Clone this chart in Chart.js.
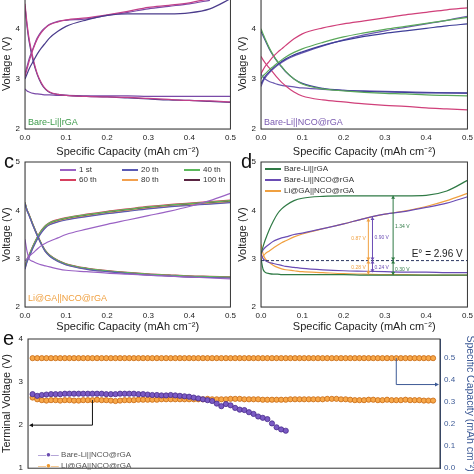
<!DOCTYPE html>
<html>
<head>
<meta charset="utf-8">
<script src="https://cdn.jsdelivr.net/npm/chart.js@4.4.0/dist/chart.umd.min.js"></script>
<style>
  body { margin: 0; background: #fff; width: 474px; height: 474px; overflow: hidden; position: relative; font-family: "Liberation Sans", Arial, sans-serif; }
  canvas { position: absolute; }
  .lbl { position: absolute; font-size: 20px; color: #111; }
  .note { position: absolute; font-size: 9px; }
  .leg { position: absolute; font-size: 8px; color: #555; white-space: nowrap; }
  .ln { display: inline-block; width: 16px; height: 2px; vertical-align: middle; margin-right: 3px; }
</style>
</head>
<body>
<canvas id="pa" style="left:0;top:-8px;width:237px;height:168px"></canvas>
<canvas id="pb" style="left:236px;top:-8px;width:238px;height:168px"></canvas>
<canvas id="pc" style="left:0;top:155px;width:237px;height:180px"></canvas>
<canvas id="pd" style="left:236px;top:155px;width:238px;height:180px"></canvas>
<canvas id="pe" style="left:0;top:332px;width:476px;height:143px"></canvas>

<div class="lbl" style="left:4px;top:150px">c</div>
<div class="lbl" style="left:241px;top:150px">d</div>
<div class="lbl" style="left:3px;top:327px">e</div>
<div class="note" style="left:28px;top:117px;color:#3c9a4a">Bare-Li||rGA</div>
<div class="note" style="left:264px;top:117px;color:#7a5ab0">Bare-Li||NCO@rGA</div>
<div class="note" style="left:28px;top:293px;color:#f0a040">Li@GA||NCO@rGA</div>
<div id="legC"></div>
<div id="legD"></div>
<div class="leg" style="left:38px;top:450px"><span style="color:#6a4cb0">&#8212;&#9679;&#8212;</span> Bare-Li||NCO@rGA</div>
<div class="leg" style="left:38px;top:461px"><span style="color:#f0982c">&#8212;&#9679;&#8212;</span> Li@GA||NCO@rGA</div>

<script>
// capacity grid (mAh cm-2) shared by the voltage profiles
const Q = [0, 0.005, 0.01, 0.02, 0.03, 0.04, 0.05, 0.06, 0.08, 0.1, 0.15, 0.2, 0.25, 0.3, 0.35, 0.4, 0.45, 0.5]
const capTicks = [0, 0.1, 0.2, 0.3, 0.4, 0.5]

// panel a: Bare-Li||rGA
const aCharge1 = [3.05, 3.2, 3.35, 3.6, 3.8, 3.93, 4.02, 4.08, 4.14, 4.18, 4.22, 4.28, 4.35, 4.43, 4.47, 4.52, 4.6, null]
const aCharge2 = [3.1, 3.25, 3.4, 3.62, 3.82, 3.95, 4.03, 4.09, 4.15, 4.17, 4.2, 4.27, 4.33, 4.4, 4.45, 4.5, 4.57, null]
const aCharge3 = [3.0, 3.1, 3.2, 3.35, 3.5, 3.62, 3.72, 3.82, 3.95, 4.05, 4.18, 4.27, 4.3, 4.3, 4.3, 4.32, 4.4, 4.6]
const aDis1 = [4.5, 4.1, 3.8, 3.4, 3.1, 2.92, 2.8, 2.74, 2.69, 2.67, 2.65, 2.64, 2.63, 2.61, 2.59, 2.57, 2.56, 2.54]
const aDis2 = [4.45, 4.05, 3.75, 3.35, 3.08, 2.9, 2.79, 2.73, 2.69, 2.67, 2.65, 2.64, 2.62, 2.6, 2.58, 2.57, 2.55, 2.53]
const aDis3 = [2.8, 2.76, 2.74, 2.71, 2.7, 2.69, 2.68, 2.68, 2.67, 2.67, 2.66, 2.66, 2.66, 2.65, 2.65, 2.65, 2.65, 2.65]

// panel b: Bare-Li||NCO@rGA
const bChargeM = [3.1, 3.18, 3.25, 3.35, 3.45, 3.53, 3.6, 3.67, 3.8, 3.9, 4.02, 4.1, 4.16, 4.22, 4.28, 4.33, 4.38, 4.42]
const bChargeG = [3.0, 3.06, 3.1, 3.18, 3.25, 3.32, 3.38, 3.44, 3.53, 3.6, 3.73, 3.84, 3.92, 3.99, 4.05, 4.11, 4.17, 4.23]
const bChargeB = [2.9, 2.98, 3.05, 3.14, 3.22, 3.29, 3.35, 3.4, 3.48, 3.54, 3.67, 3.77, 3.85, 3.91, 3.96, 4.01, 4.06, 4.1]
const bChargeV = [2.85, 2.95, 3.02, 3.12, 3.2, 3.27, 3.33, 3.38, 3.46, 3.52, 3.66, 3.78, 3.88, 3.96, 4.03, 4.1, 4.17, 4.25]
const bDisG = [4.0, 3.9, 3.8, 3.62, 3.47, 3.35, 3.25, 3.15, 3.0, 2.9, 2.8, 2.76, 2.73, 2.71, 2.7, 2.68, 2.67, 2.66]
const bDisB = [3.95, 3.86, 3.77, 3.6, 3.46, 3.34, 3.24, 3.14, 3.0, 2.91, 2.81, 2.77, 2.75, 2.74, 2.73, 2.72, 2.72, 2.72]
const bDisM = [3.45, 3.38, 3.32, 3.22, 3.12, 3.02, 2.93, 2.86, 2.74, 2.66, 2.58, 2.54, 2.5, 2.47, 2.45, 2.42, 2.4, 2.38]
const bDisV = [3.1, 3.04, 3.0, 2.95, 2.92, 2.89, 2.87, 2.86, 2.84, 2.82, 2.79, 2.77, 2.76, 2.75, 2.74, 2.73, 2.72, 2.71]

// panel c: Li@GA||NCO@rGA by cycle
const cCycles = ['1 st', '20 th', '40 th', '60 th', '80 th', '100 th']
const cColors = ['#9a62c4', '#5a5ab4', '#5cb85c', '#d6405e', '#f2a04e', '#5a2442']
const cCharge1 = [2.95, 3.0, 3.05, 3.12, 3.2, 3.27, 3.32, 3.36, 3.43, 3.5, 3.61, 3.71, 3.8, 3.89, 3.98, 4.08, 4.2, 4.35]
const cChargeN = [2.8, 2.95, 3.05, 3.25, 3.42, 3.56, 3.66, 3.72, 3.78, 3.82, 3.89, 3.95, 4.0, 4.05, 4.09, 4.12, 4.15, 4.18]
const cDis1 = [3.4, 3.15, 3.0, 2.94, 2.9, 2.87, 2.85, 2.83, 2.79, 2.76, 2.73, 2.7, 2.68, 2.66, 2.64, 2.62, 2.6, 2.58]
const cDisN = [4.15, 4.0, 3.9, 3.68, 3.48, 3.3, 3.15, 3.06, 2.95, 2.88, 2.79, 2.74, 2.7, 2.67, 2.65, 2.63, 2.62, 2.61]
const cOffsets = [0, -0.02, 0.02, 0.03, -0.01, 0.01]

// panel d: comparison
const dNames = ['Bare-Li||rGA', 'Bare-Li||NCO@rGA', 'Li@GA||NCO@rGA']
const dColors = ['#2f7a45', '#6a4cb4', '#f0a040']
const dCharge = [
  [3.1, 3.25, 3.38, 3.6, 3.78, 3.93, 4.03, 4.1, 4.2, 4.25, 4.29, 4.3, 4.3, 4.3, 4.3, 4.31, 4.4, 4.62],
  [3.1, 3.18, 3.23, 3.3, 3.36, 3.4, 3.43, 3.45, 3.5, 3.53, 3.62, 3.72, 3.83, 3.92, 3.98, 4.06, 4.15, 4.28],
  [3.0, 3.05, 3.1, 3.16, 3.22, 3.28, 3.33, 3.37, 3.45, 3.51, 3.62, 3.72, 3.83, 3.92, 3.99, 4.08, 4.2, 4.35]
]
const dDis = [
  [3.0, 2.78, 2.72, 2.69, 2.68, 2.68, 2.67, 2.67, 2.67, 2.67, 2.67, 2.67, 2.66, 2.66, 2.66, 2.66, 2.66, 2.66],
  [3.1, 3.0, 2.96, 2.92, 2.9, 2.88, 2.86, 2.84, 2.82, 2.8, 2.77, 2.75, 2.74, 2.73, 2.72, 2.72, 2.71, 2.71],
  [3.3, 3.1, 3.0, 2.92, 2.86, 2.82, 2.79, 2.77, 2.75, 2.73, 2.71, 2.69, 2.68, 2.67, 2.67, 2.66, 2.66, 2.66]
]
const eZero = 2.96
// gap arrows: capacity, bottom, top, colour, upper label, lower label
const dGaps = [
  { x: 0.32, lo: 2.66, hi: 4.3, c: '#2f7a45', up: '1.34 V', dn: '0.30 V' },
  { x: 0.27, lo: 2.72, hi: 3.86, c: '#6a4cb4', up: '0.90 V', dn: '0.24 V' },
  { x: 0.26, lo: 2.68, hi: 3.83, c: '#f0a040', up: '0.87 V', dn: '0.28 V' }
]

// panel e: cycling
const eVoltOrange = [2.64, 2.6, 2.58, 2.57, 2.58, 2.58, 2.57, 2.58, 2.58, 2.57, 2.57, 2.58, 2.58, 2.58, 2.59, 2.58, 2.58, 2.57, 2.56, 2.57, 2.58, 2.58, 2.58, 2.59, 2.59, 2.59, 2.59, 2.59, 2.6, 2.6, 2.6, 2.6, 2.6, 2.6, 2.6, 2.6, 2.6, 2.6, 2.61, 2.6, 2.6, 2.6, 2.6, 2.61, 2.61, 2.61, 2.6, 2.6, 2.6, 2.6, 2.59, 2.59, 2.59, 2.59, 2.59, 2.59, 2.6, 2.6, 2.6, 2.6, 2.6, 2.6, 2.6, 2.6, 2.61, 2.61, 2.61, 2.6, 2.6, 2.59, 2.58, 2.58, 2.58, 2.59, 2.59, 2.58, 2.58, 2.59, 2.58, 2.58, 2.58, 2.59, 2.58, 2.58, 2.58, 2.57, 2.57, 2.57]
const eVoltPurple = [2.72, 2.68, 2.7, 2.71, 2.72, 2.72, 2.72, 2.73, 2.73, 2.73, 2.73, 2.73, 2.73, 2.73, 2.73, 2.73, 2.72, 2.72, 2.72, 2.73, 2.73, 2.73, 2.73, 2.72, 2.72, 2.71, 2.7, 2.7, 2.69, 2.69, 2.7, 2.69, 2.68, 2.67, 2.66, 2.64, 2.62, 2.6, 2.58, 2.56, 2.5, 2.44, 2.49, 2.46, 2.4, 2.36, 2.35, 2.3, 2.26, 2.2, 2.17, 2.14, 2.04, 1.95, 1.9, 1.87]
const eCapOrange = [0.5, 0.5, 0.5, 0.5, 0.5, 0.5, 0.5, 0.5, 0.5, 0.5, 0.5, 0.5, 0.5, 0.5, 0.5, 0.5, 0.5, 0.5, 0.5, 0.5, 0.5, 0.5, 0.5, 0.5, 0.5, 0.5, 0.5, 0.5, 0.5, 0.5, 0.5, 0.5, 0.5, 0.5, 0.5, 0.5, 0.5, 0.5, 0.5, 0.5, 0.5, 0.5, 0.5, 0.5, 0.5, 0.5, 0.5, 0.5, 0.5, 0.5, 0.5, 0.5, 0.5, 0.5, 0.5, 0.5, 0.5, 0.5, 0.5, 0.5, 0.5, 0.5, 0.5, 0.5, 0.5, 0.5, 0.5, 0.5, 0.5, 0.5, 0.5, 0.5, 0.5, 0.5, 0.5, 0.5, 0.5, 0.5, 0.5, 0.5, 0.5, 0.5, 0.5, 0.5, 0.5, 0.5, 0.5, 0.5]

Chart.defaults.font.family = '"Liberation Sans", Arial, sans-serif'
Chart.defaults.color = '#222'
Chart.defaults.animation = false

// html legends for c and d
function legendRow(parent, name, color, left, top) {
    const d = document.createElement('div')
    d.className = 'leg'
    d.style.left = left + 'px'; d.style.top = top + 'px'; d.style.color = '#333'
    d.innerHTML = '<span class="ln" style="background:' + color + '"></span>' + name
    parent.appendChild(d)
}
const legC = document.getElementById('legC')
cCycles.forEach((n, k) => legendRow(legC, n, cColors[k], 60 + (k % 3) * 62, 165 + Math.floor(k / 3) * 10))
const legD = document.getElementById('legD')
dNames.forEach((n, k) => legendRow(legD, n, dColors[k], 265, 164 + k * 11))

const frame = {
    id: 'frame',
    afterDraw(chart) {
        const a = chart.chartArea, ctx = chart.ctx
        ctx.save()
        ctx.strokeStyle = '#333'
        ctx.lineWidth = 1
        ctx.strokeRect(a.left, a.top, a.right - a.left, a.bottom - a.top)
        ctx.restore()
    }
}

function curve(ys, color, label) {
    return {
        label: label || '',
        data: Q.map((q, i) => ({ x: q, y: ys[i] })),
        borderColor: color,
        borderWidth: 1.2,
        pointRadius: 0,
        cubicInterpolationMode: 'monotone',
        spanGaps: false
    }
}

function profileOptions(yMax, padTop, padRight, xHeight) {
    return {
        responsive: false,
        layout: { padding: { top: padTop, right: padRight, left: 0, bottom: 0 } },
        plugins: { legend: { display: false }, tooltip: { enabled: false } },
        scales: {
            x: {
                type: 'linear', min: 0, max: 0.5,
                afterBuildTicks: s => { s.ticks = capTicks.map(v => ({ value: v })) },
                afterFit: s => { s.height = xHeight },
                ticks: { font: { size: 8 }, padding: 1, maxRotation: 0, callback: v => v.toFixed(1) },
                grid: { display: false, drawTicks: true, tickLength: 3 },
                title: { display: true, text: 'Specific Capacity (mAh cm\u207B\u00B2)', font: { size: 11 }, padding: 1 }
            },
            y: {
                min: 2, max: yMax,
                afterBuildTicks: s => { s.ticks = [2, 3, 4, 5].filter(v => v <= yMax).map(v => ({ value: v })) },
                afterFit: s => { s.width = 25 },
                ticks: { font: { size: 8 }, padding: 2 },
                grid: { display: false, tickLength: 3 },
                title: { display: true, text: 'Voltage (V)', font: { size: 11 }, padding: 0 }
            }
        }
    }
}

function setSize(id, w, h) {
    const c = document.getElementById(id)
    c.width = w; c.height = h
    return c
}

// a
new Chart(setSize('pa', 237, 168), {
    type: 'line',
    data: { datasets: [
        curve(aCharge3, '#4b3c8c'), curve(aCharge1, '#c0408a'), curve(aCharge2, '#7a4aa8'),
        curve(aDis1, '#c0408a'), curve(aDis2, '#4b3c8c'), curve(aDis3, '#7a4aa8')
    ] },
    options: profileOptions(4.6, 0, 5, 31),
    plugins: [frame]
})

// b
new Chart(setSize('pb', 238, 168), {
    type: 'line',
    data: { datasets: [
        curve(bChargeM, '#d0407a'), curve(bChargeG, '#5aa85a'), curve(bChargeB, '#3e3e98'), curve(bChargeV, '#6a58b0'),
        curve(bDisG, '#5aa85a'), curve(bDisB, '#3e3e98'), curve(bDisM, '#d0407a'), curve(bDisV, '#6a58b0')
    ] },
    options: profileOptions(4.6, 0, 6, 31),
    plugins: [frame]
})

// c
const cSets = []
cCycles.forEach((name, k) => {
    if (k === 0) {
        cSets.push(curve(cCharge1, cColors[0], name))
        cSets.push(curve(cDis1, cColors[0], ''))
    } else {
        cSets.push(curve(cChargeN.map(v => v + cOffsets[k]), cColors[k], name))
        cSets.push(curve(cDisN.map(v => v + cOffsets[k] / 2), cColors[k], ''))
    }
})
new Chart(setSize('pc', 237, 180), {
    type: 'line',
    data: { datasets: cSets },
    options: profileOptions(5, 7, 5, 28),
    plugins: [frame]
})

// d
const gapArrows = {
    id: 'gapArrows',
    afterDatasetsDraw(chart) {
        const ctx = chart.ctx, xs = chart.scales.x, ys = chart.scales.y, a = chart.chartArea
        const yz = ys.getPixelForValue(eZero)
        ctx.save()
        ctx.setLineDash([3, 2])
        ctx.strokeStyle = '#2a3560'
        ctx.lineWidth = 1
        ctx.beginPath(); ctx.moveTo(a.left, yz); ctx.lineTo(a.right, yz); ctx.stroke()
        ctx.setLineDash([])
        ctx.fillStyle = '#222'
        ctx.font = '10px "Liberation Sans", Arial'
        ctx.fillText('E\u00B0 = 2.96 V', xs.getPixelForValue(0.365), yz - 4)
        const head = (x, y, dir) => {
            ctx.beginPath(); ctx.moveTo(x, y); ctx.lineTo(x - 2, y - 3 * dir); ctx.lineTo(x + 2, y - 3 * dir); ctx.closePath(); ctx.fill()
        }
        dGaps.forEach((g, i) => {
            const x = xs.getPixelForValue(g.x), yl = ys.getPixelForValue(g.lo), yh = ys.getPixelForValue(g.hi)
            ctx.strokeStyle = g.c; ctx.fillStyle = g.c; ctx.lineWidth = 1
            ctx.beginPath(); ctx.moveTo(x, yl); ctx.lineTo(x, yh); ctx.stroke()
            head(x, yh, -1); head(x, yz, 1); head(x, yz, -1); head(x, yl, 1)
            ctx.font = '5px "Liberation Sans", Arial'
            const tx = i === 2 ? x - 17 : x + 2
            ctx.fillText(g.up, tx, (yh + yz) / 2)
            ctx.fillText(g.dn, tx, i === 0 ? yz + 10 : yz + 8)
        })
        ctx.restore()
    }
}
const dSets = []
dNames.forEach((n, k) => {
    dSets.push(curve(dCharge[k], dColors[k], n))
    dSets.push(curve(dDis[k], dColors[k], ''))
})
new Chart(setSize('pd', 238, 180), {
    type: 'line',
    data: { datasets: dSets },
    options: profileOptions(5, 7, 6, 28),
    plugins: [frame, gapArrows]
})

// e
const eArrows = {
    id: 'eArrows',
    afterDatasetsDraw(chart) {
        const ctx = chart.ctx, xs = chart.scales.x, yl = chart.scales.y, yr = chart.scales.y1, a = chart.chartArea
        ctx.save()
        ctx.lineWidth = 1
        ctx.strokeStyle = '#111'; ctx.fillStyle = '#111'
        let x = xs.getPixelForValue(14), y1 = yl.getPixelForValue(2.58), y2 = yl.getPixelForValue(2)
        ctx.beginPath(); ctx.moveTo(x, y1); ctx.lineTo(x, y2); ctx.lineTo(a.left + 3, y2); ctx.stroke()
        ctx.beginPath(); ctx.moveTo(a.left + 1, y2); ctx.lineTo(a.left + 5, y2 - 2); ctx.lineTo(a.left + 5, y2 + 2); ctx.fill()
        ctx.strokeStyle = '#3d5a96'; ctx.fillStyle = '#3d5a96'
        x = xs.getPixelForValue(80); y1 = yr.getPixelForValue(0.5); y2 = yr.getPixelForValue(0.38)
        ctx.beginPath(); ctx.moveTo(x, y1); ctx.lineTo(x, y2); ctx.lineTo(a.right - 3, y2); ctx.stroke()
        ctx.beginPath(); ctx.moveTo(a.right - 1, y2); ctx.lineTo(a.right - 5, y2 - 2); ctx.lineTo(a.right - 5, y2 + 2); ctx.fill()
        ctx.restore()
    }
}
function dots(vals, fill, edge, axis) {
    return {
        data: vals.map((v, i) => ({ x: i + 1, y: v })),
        yAxisID: axis, showLine: false,
        pointRadius: 2.6, pointBackgroundColor: fill, pointBorderColor: edge, pointBorderWidth: 0.8
    }
}
new Chart(setSize('pe', 476, 143), {
    type: 'scatter',
    data: { datasets: [
        dots(eCapOrange, '#f7a84a', '#c86a14', 'y1'),
        dots(eVoltPurple, '#7a5ac4', '#4a2c8c', 'y'),
        dots(eVoltOrange, '#f7a84a', '#c86a14', 'y')
    ] },
    options: {
        responsive: false,
        layout: { padding: { top: 7, right: 0, left: 0, bottom: 0 } },
        plugins: { legend: { display: false }, tooltip: { enabled: false } },
        scales: {
            x: { type: 'linear', min: 0, max: 89.5, display: false },
            y: {
                position: 'left', min: 1, max: 4,
                afterBuildTicks: s => { s.ticks = [1, 2, 3, 4].map(v => ({ value: v })) },
                afterFit: s => { s.width = 28 },
                ticks: { font: { size: 8 }, padding: 2 },
                grid: { display: false, tickLength: 3 },
                title: { display: true, text: 'Terminal Voltage (V)', font: { size: 11 }, padding: 0 }
            },
            y1: {
                position: 'right', min: 0, max: 0.587,
                afterBuildTicks: s => { s.ticks = [0, 0.1, 0.2, 0.3, 0.4, 0.5].map(v => ({ value: v })) },
                afterFit: s => { s.width = 36 },
                ticks: { font: { size: 8 }, padding: 1, color: '#3d5a96', callback: v => v.toFixed(1) },
                grid: { display: false, tickLength: 3, color: '#3d5a96' },
                border: { color: '#3d5a96' },
                title: { display: true, text: 'Specific Capacity (mAh cm\u207B\u00B2)', font: { size: 10.5 }, color: '#3d5a96', padding: 0 }
            }
        }
    },
    plugins: [frame, eArrows]
})
</script>
</body>
</html>
